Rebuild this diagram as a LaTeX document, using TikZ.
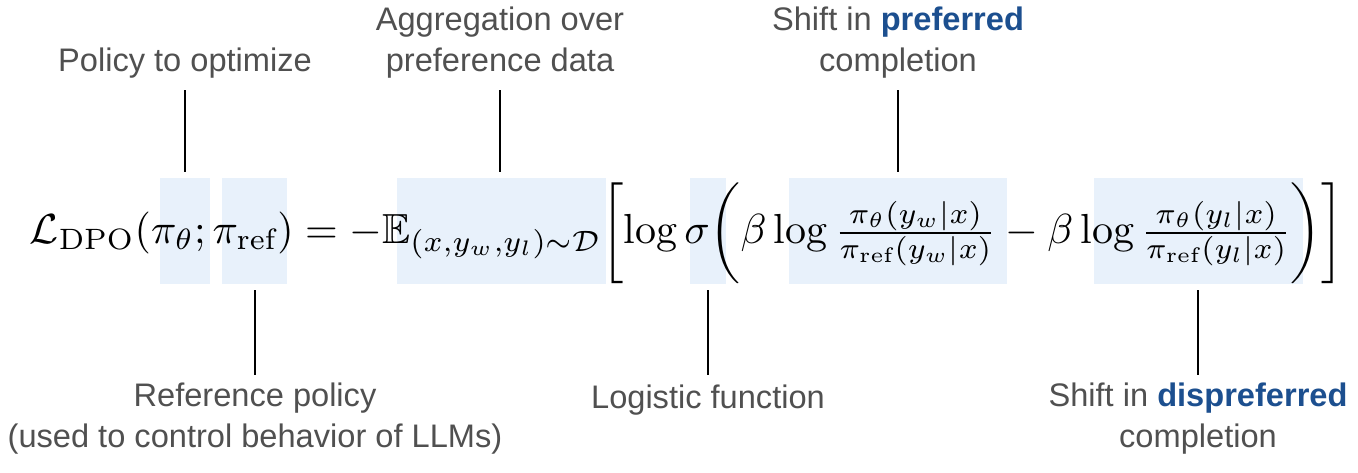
\documentclass[tikz,border=0pt]{standalone}
\usepackage{amsmath,amssymb}
\usepackage{fontspec}
\newfontfamily\labfont{Liberation Sans}
\usepackage{graphicx}
\definecolor{hl}{HTML}{E8F1FB}
\definecolor{lab}{HTML}{505050}
\definecolor{emph}{HTML}{1C4F8F}
\tikzset{hbox/.style={fill=hl,draw=none},
 lbl/.style={text=lab,font=\labfont\fontsize{16.3}{20.5}\selectfont,align=center,inner sep=0pt},
 ln/.style={draw=black,line width=0.6pt}}
\begin{document}
\begin{tikzpicture}[x=0.5pt,y=-0.5pt]
\useasboundingbox (0,0) rectangle (1358,472);
\fill[white] (0,0) rectangle (1358,472);
\fill[hbox] (160,178) rectangle (210,284);
\fill[hbox] (222,178) rectangle (287,284);
\fill[hbox] (397,178) rectangle (606,284);
\fill[hbox] (690,178) rectangle (726,284);
\fill[hbox] (789,178) rectangle (1007,284);
\fill[hbox] (1094,178) rectangle (1303,284);
\node[inner sep=0pt] (eq) at (687,233) {\resizebox{657pt}{!}{$
\mathcal{L}_{\mathrm{DPO}}(\pi_\theta;\pi_{\mathrm{ref}})=-\mathbb{E}_{(x,y_w,y_l)\sim\mathcal{D}}\biggl[\log\sigma\biggl(\beta\log\frac{\pi_\theta(y_w\mid x)}{\pi_{\mathrm{ref}}(y_w\mid x)}-\beta\log\frac{\pi_\theta(y_l\mid x)}{\pi_{\mathrm{ref}}(y_l\mid x)}\biggr)\biggr]$}};
\node[lbl] (t1) at (185,63) {Policy to optimize};
\node[lbl] (t2) at (500,43) {Aggregation over\\preference data};
\node[lbl] (t3) at (898,43) {Shift in \textcolor{emph}{\textbf{preferred}}\\completion};
\node[lbl] (b1) at (255,419) {Reference policy\\(used to control behavior of LLMs)};
\node[lbl] (b2) at (708,400) {Logistic function};
\node[lbl] (b3) at (1198,419) {Shift in \textcolor{emph}{\textbf{dispreferred}}\\completion};
\coordinate (a1) at (185,172); \coordinate (a2) at (500,172); \coordinate (a3) at (898,172);
\coordinate (c1) at (255,290); \coordinate (c2) at (708,290); \coordinate (c3) at (1198,290);
\draw[ln] (185,90) -- (a1);
\draw[ln] (500,90) -- (a2);
\draw[ln] (898,90) -- (a3);
\draw[ln] (c1) -- (255,375);
\draw[ln] (c2) -- (708,375);
\draw[ln] (c3) -- (1198,375);
\end{tikzpicture}
\end{document}
